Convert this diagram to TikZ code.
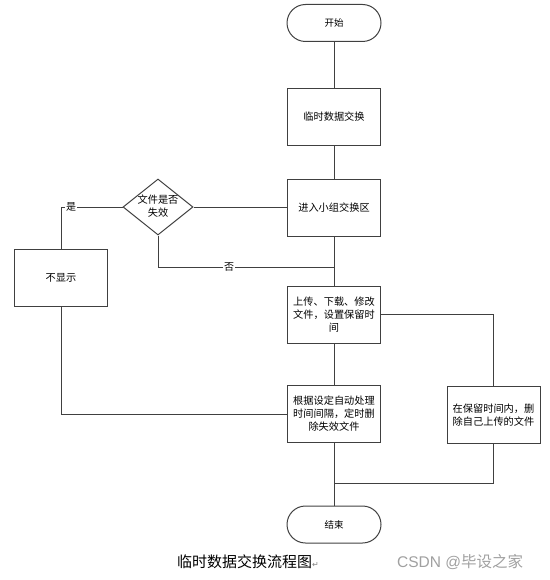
\documentclass[tikz,border=0pt]{standalone}
\usepackage{fontspec}
\setmainfont{Liberation Sans}
\newfontfamily\cjk{Noto Sans CJK SC}
\newfontfamily\dvs{DejaVu Sans}
\usetikzlibrary{shapes.geometric}
\definecolor{linec}{HTML}{404040}
\definecolor{wmc}{HTML}{A0A0A0}
\tikzset{
  boxn/.style={draw=linec, line width=1pt, minimum width=93pt, minimum height=57pt, inner sep=2pt, align=center, font=\cjk\fontsize{10.2}{13}\selectfont},
  termn/.style={draw=linec, line width=1pt, rounded corners=18.5pt, minimum width=94pt, minimum height=37pt, inner sep=0pt, font=\cjk\fontsize{9.5}{11}\selectfont},
  conn/.style={draw=linec, line width=1pt},
  lbl/.style={fill=white, inner sep=1pt, font=\cjk\fontsize{10}{11}\selectfont}
}
\begin{document}
\begin{tikzpicture}[x=1pt, y=-1pt]
\useasboundingbox (0,0) rectangle (549,580);
\node[termn] (start) at (334,23) {开始};
\node[boxn] (b1) at (334,117) {临时数据交换};
\node[boxn] (b2) at (334,207.5) {进入小组交换区};
\node[diamond, draw=linec, line width=1pt, minimum width=70pt, minimum height=56pt, inner sep=0pt] (dia) at (158,207) {};
\node[align=center, inner sep=0pt, font=\cjk\fontsize{10.2}{13}\selectfont] (diat) at (158,206) {文件是否\\失效};
\node[boxn] (nodisp) at (61,277.5) {不显示};
\node[boxn] (b3) at (334,314.5) {上传、下载、修改\\文件，设置保留时\\间};
\node[boxn] (b4) at (334,414) {根据设定自动处理\\时间间隔，定时删\\除失效文件};
\node[boxn] (b5) at (493.5,415) {在保留时间内，删\\除自己上传的文件};
\node[termn] (end) at (334,524.5) {结束};
\coordinate (mid1) at (334,267);
\coordinate (mid2) at (334,483);

\draw[conn] (start) -- (b1);
\draw[conn] (b1) -- (b2);
\draw[conn] (b2) -- (b3);
\draw[conn] (b3) -- (b4);
\draw[conn] (b4) -- (end);
\draw[conn] (dia.east) -- (b2.west |- dia.east);
\draw[conn] (dia.west) -| (nodisp.north);
\draw[conn] (dia.south) |- (mid1);
\draw[conn] (b3.east) -| (b5.north);
\draw[conn] (nodisp.south) |- (b4.west);
\draw[conn] (b5.south) |- (mid2);
\node[lbl] (yes) at (71,207) {是};
\node[lbl] (no) at (229,267) {否};

\node[anchor=west, inner sep=0pt, font=\cjk\fontsize{15}{16}\selectfont] (cap) at (177,562) {临时数据交换流程图{\dvs\fontsize{8}{8}\selectfont\color{gray}↵}};
\node[anchor=west, inner sep=0pt, text=wmc, font=\fontsize{15.5}{16}\selectfont] (wm) at (397,562) {CSDN @{\cjk 毕设之家}};
\end{tikzpicture}
\end{document}
